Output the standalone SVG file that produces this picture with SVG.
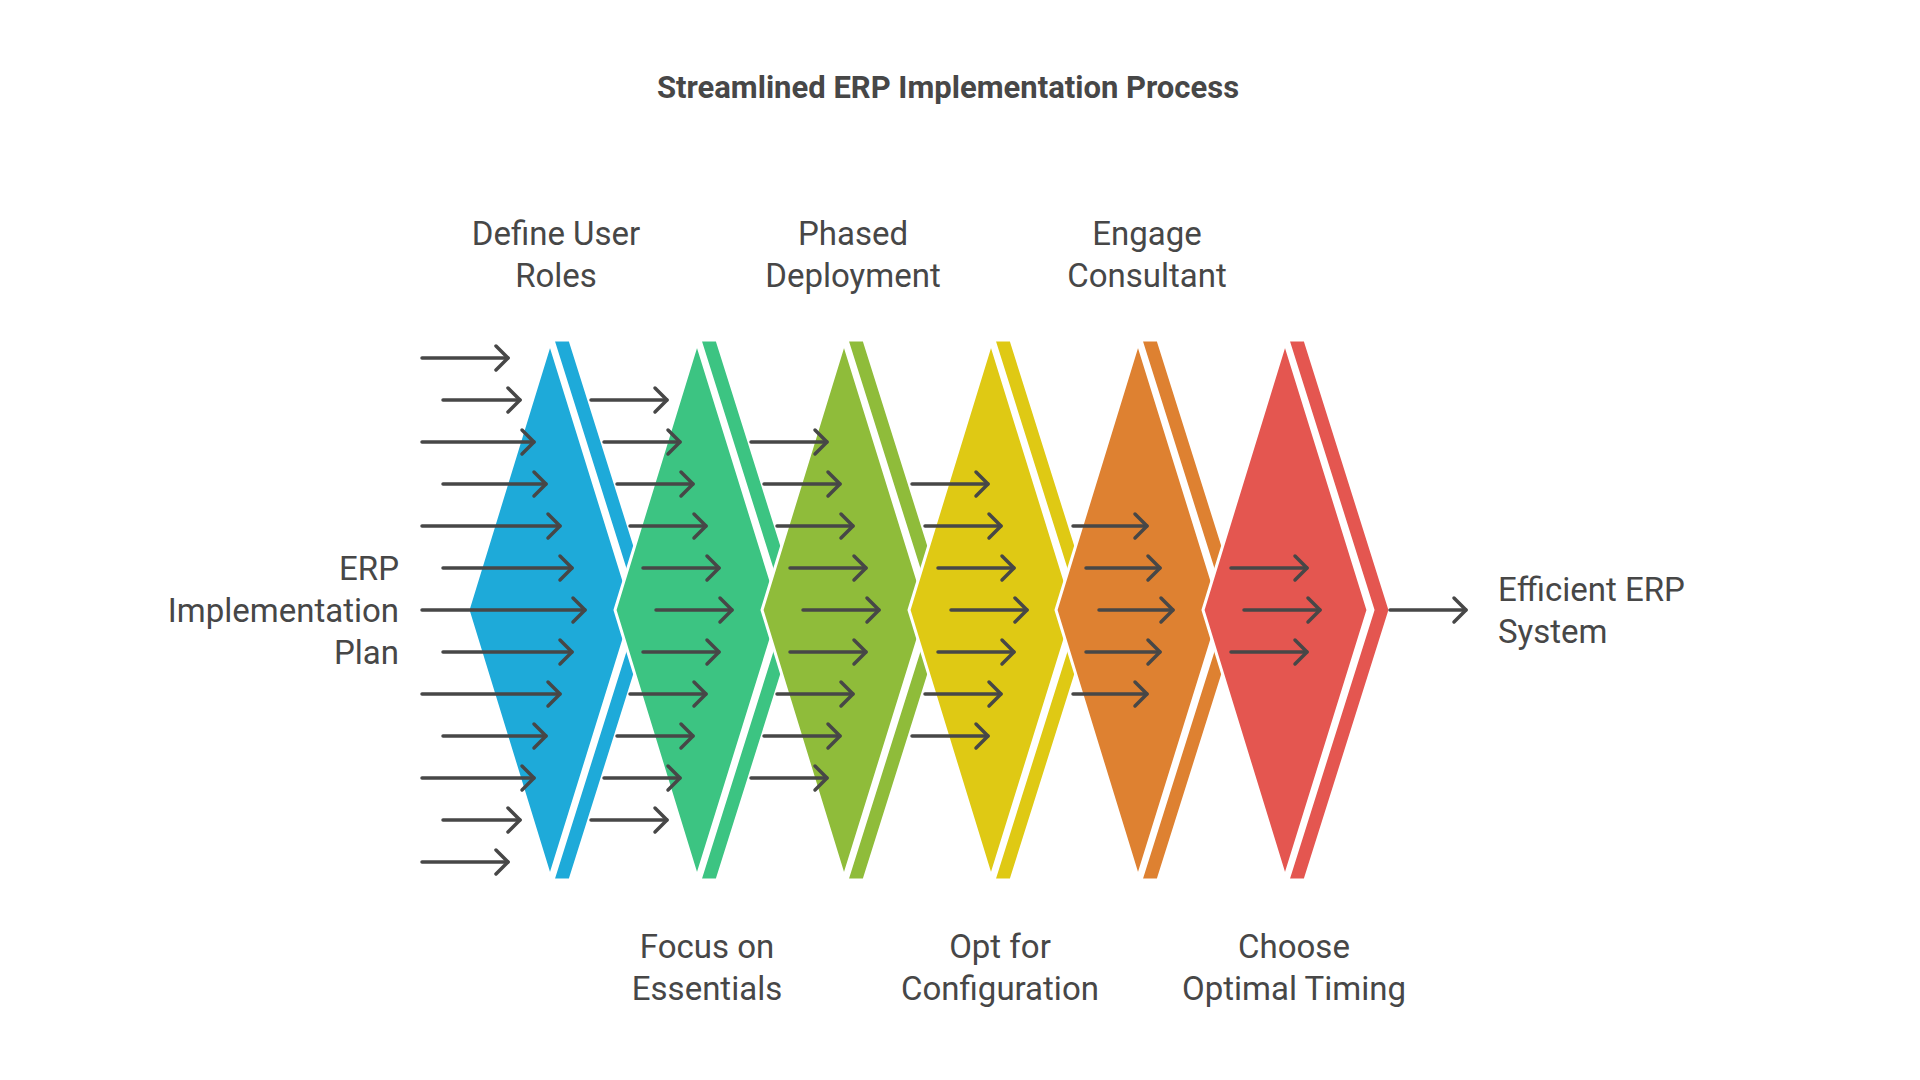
<svg xmlns="http://www.w3.org/2000/svg" width="1920" height="1080" viewBox="0 0 1920 1080">
<defs>
<style>
.t{font-family:Roboto,"Liberation Sans",sans-serif;font-size:33px;fill:#474747}
.h{font-family:Roboto,"Liberation Sans",sans-serif;font-size:31px;font-weight:bold;fill:#474747}
.c{stroke:#fff;stroke-width:3;stroke-linejoin:round}
.a line{stroke:#474747;stroke-width:3.5;stroke-linecap:round;marker-end:url(#ah)}
</style>
<marker id="ah" markerUnits="userSpaceOnUse" markerWidth="30" markerHeight="30" refX="16" refY="15" orient="auto" overflow="visible">
<path d="M4,3 L16,15 L4,27" fill="none" stroke="#474747" stroke-width="3.5" stroke-linecap="round" stroke-linejoin="round"/>
</marker>
</defs>
<rect width="1920" height="1080" fill="#fff"/>
<text class="h" x="948" y="98" text-anchor="middle">Streamlined ERP Implementation Process</text>

<g id="s1" transform="translate(550,0)"><polygon class="c" fill="#1EAAD9" points="3,340 20,340 105,610 20,880 3,880 88,610"/><polygon class="c" fill="#1EAAD9" points="0,343 83,610 0,877 -82,610"/></g>
<g id="s2" transform="translate(697,0)"><polygon class="c" fill="#3CC482" points="3,340 20,340 105,610 20,880 3,880 88,610"/><polygon class="c" fill="#3CC482" points="0,343 83,610 0,877 -82,610"/></g>
<g id="s3" transform="translate(844,0)"><polygon class="c" fill="#8FBC3A" points="3,340 20,340 105,610 20,880 3,880 88,610"/><polygon class="c" fill="#8FBC3A" points="0,343 83,610 0,877 -82,610"/></g>
<g id="s4" transform="translate(991,0)"><polygon class="c" fill="#DFC914" points="3,340 20,340 105,610 20,880 3,880 88,610"/><polygon class="c" fill="#DFC914" points="0,343 83,610 0,877 -82,610"/></g>
<g id="s5" transform="translate(1138,0)"><polygon class="c" fill="#DE8131" points="3,340 20,340 105,610 20,880 3,880 88,610"/><polygon class="c" fill="#DE8131" points="0,343 83,610 0,877 -82,610"/></g>
<g id="s6" transform="translate(1285,0)"><polygon class="c" fill="#E45650" points="3,340 20,340 105,610 20,880 3,880 88,610"/><polygon class="c" fill="#E45650" points="0,343 83,610 0,877 -82,610"/></g>

<g id="connectors" class="a">
<line x1="422" y1="358" x2="508" y2="358"/><line x1="443" y1="400" x2="520" y2="400"/><line x1="422" y1="442" x2="534" y2="442"/><line x1="443" y1="484" x2="546" y2="484"/><line x1="422" y1="526" x2="560" y2="526"/><line x1="443" y1="568" x2="572" y2="568"/><line x1="422" y1="610" x2="585" y2="610"/><line x1="443" y1="652" x2="572" y2="652"/><line x1="422" y1="694" x2="560" y2="694"/><line x1="443" y1="736" x2="546" y2="736"/><line x1="422" y1="778" x2="534" y2="778"/><line x1="443" y1="820" x2="520" y2="820"/><line x1="422" y1="862" x2="508" y2="862"/>
<line x1="591" y1="400" x2="667" y2="400"/><line x1="604" y1="442" x2="680" y2="442"/><line x1="617" y1="484" x2="693" y2="484"/><line x1="630" y1="526" x2="706" y2="526"/><line x1="643" y1="568" x2="719" y2="568"/><line x1="656" y1="610" x2="732" y2="610"/><line x1="643" y1="652" x2="719" y2="652"/><line x1="630" y1="694" x2="706" y2="694"/><line x1="617" y1="736" x2="693" y2="736"/><line x1="604" y1="778" x2="680" y2="778"/><line x1="591" y1="820" x2="667" y2="820"/>
<line x1="751" y1="442" x2="827" y2="442"/><line x1="764" y1="484" x2="840" y2="484"/><line x1="777" y1="526" x2="853" y2="526"/><line x1="790" y1="568" x2="866" y2="568"/><line x1="803" y1="610" x2="879" y2="610"/><line x1="790" y1="652" x2="866" y2="652"/><line x1="777" y1="694" x2="853" y2="694"/><line x1="764" y1="736" x2="840" y2="736"/><line x1="751" y1="778" x2="827" y2="778"/>
<line x1="912" y1="484" x2="988" y2="484"/><line x1="925" y1="526" x2="1001" y2="526"/><line x1="938" y1="568" x2="1014" y2="568"/><line x1="951" y1="610" x2="1027" y2="610"/><line x1="938" y1="652" x2="1014" y2="652"/><line x1="925" y1="694" x2="1001" y2="694"/><line x1="912" y1="736" x2="988" y2="736"/>
<line x1="1073" y1="526" x2="1147" y2="526"/><line x1="1086" y1="568" x2="1160" y2="568"/><line x1="1099" y1="610" x2="1173" y2="610"/><line x1="1086" y1="652" x2="1160" y2="652"/><line x1="1073" y1="694" x2="1147" y2="694"/>
<line x1="1231" y1="568" x2="1307" y2="568"/><line x1="1244" y1="610" x2="1320" y2="610"/><line x1="1231" y1="652" x2="1307" y2="652"/>
<line x1="1390" y1="610" x2="1466" y2="610"/>
</g>

<g id="labels">
<text class="t" x="556" y="245" text-anchor="middle">Define User</text><text class="t" x="556" y="287" text-anchor="middle">Roles</text>
<text class="t" x="853" y="245" text-anchor="middle">Phased</text><text class="t" x="853" y="287" text-anchor="middle">Deployment</text>
<text class="t" x="1147" y="245" text-anchor="middle">Engage</text><text class="t" x="1147" y="287" text-anchor="middle">Consultant</text>
<text class="t" x="707" y="958" text-anchor="middle">Focus on</text><text class="t" x="707" y="1000" text-anchor="middle">Essentials</text>
<text class="t" x="1000" y="958" text-anchor="middle">Opt for</text><text class="t" x="1000" y="1000" text-anchor="middle">Configuration</text>
<text class="t" x="1294" y="958" text-anchor="middle">Choose</text><text class="t" x="1294" y="1000" text-anchor="middle">Optimal Timing</text>
<text class="t" x="399" y="580" text-anchor="end">ERP</text><text class="t" x="399" y="622" text-anchor="end">Implementation</text><text class="t" x="399" y="664" text-anchor="end">Plan</text>
<text class="t" x="1498" y="601">Efficient ERP</text><text class="t" x="1498" y="643">System</text>
</g>
</svg>
